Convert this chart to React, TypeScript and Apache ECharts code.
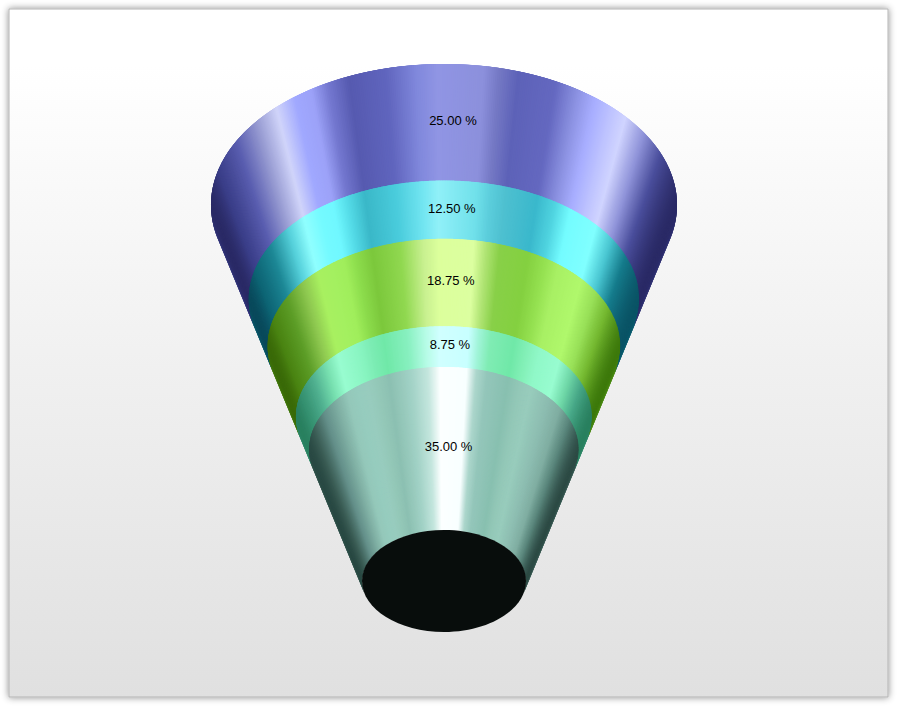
import React, { useEffect, useRef } from "react";
import * as echarts from "echarts";

// Share of each funnel band, top to bottom (percent)
const bandValues = [25, 12.5, 18.75, 8.75, 35];

// Shading ramps: position across the cone (-1 left silhouette, +1 right silhouette)
const shadeStops = [-1, -0.97, -0.89, -0.8, -0.72, -0.64, -0.57, -0.5, -0.41, -0.25, -0.12, -0.03, 0.17, 0.24, 0.32, 0.48, 0.57, 0.65, 0.78, 0.86, 0.93, 1];
const purpleRamp = ["#2a2a66", "#3a3e88", "#5a5eb0", "#9a9ed4", "#d0d4fa", "#a0a8ff", "#9ca2f8", "#7478d0", "#565ab0", "#6065be", "#8088dc", "#9095e4", "#8c90dc", "#7478c4", "#5d62b8", "#6468c0", "#8a90e0", "#a8aeff", "#d0d4ff", "#8e92d8", "#4a4e9c", "#2a2a66"];
const cyanRamp = ["#0a4a5c", "#0d6474", "#1d8896", "#55d0da", "#90ffff", "#74faff", "#70f8ff", "#55dce8", "#3ab8c8", "#4accdc", "#70e4f0", "#90f0f8", "#70e0ea", "#5ccedc", "#4ec0d0", "#3ab8cc", "#50d4e0", "#74fcff", "#80ffff", "#48c4d0", "#157c8c", "#0a5466"];
const greenRamp = ["#3a6a08", "#4a8412", "#5d9e28", "#8ec850", "#a8f060", "#a4f060", "#a0ee5c", "#8cdc4c", "#7cc83c", "#90d850", "#c8f090", "#dcff9c", "#dcffa0", "#b0e474", "#88d048", "#84d040", "#94e050", "#a8f064", "#b0f86c", "#98e058", "#74b830", "#3e7a0c"];
const mintRamp = ["#2a8060", "#359070", "#50b090", "#78e0b0", "#98fcd0", "#90f8c8", "#88f4c0", "#7cecb4", "#70e8a8", "#88f0c0", "#b8fce8", "#d0ffff", "#c8ffff", "#a0f4d8", "#80ecb4", "#70e8a8", "#84f0b8", "#90f8c8", "#98fcd0", "#70d8a8", "#48a888", "#2a8060"];
const silverRamp = ["#2a4a44", "#3a5c54", "#64908a", "#80b0a4", "#94c8ba", "#96ccbe", "#98ccbe", "#94c8b8", "#8cc0b2", "#a2d2c6", "#c4e6de", "#fcffff", "#f8ffff", "#acd6cc", "#94c6ba", "#88c0b0", "#94c8b8", "#98ccbc", "#8cbcb0", "#80aea2", "#5a867c", "#2e4c46"];
const ramps = [purpleRamp, cyanRamp, greenRamp, mintRamp, silverRamp];

const hexToRgb = (h: string) => [1, 3, 5].map((i) => parseInt(h.slice(i, i + 2), 16));

function shade(ramp: string[], u: number): string {
  let i = 0;
  while (i < shadeStops.length - 2 && u > shadeStops[i + 1]) i++;
  const f = Math.min(1, Math.max(0, (u - shadeStops[i]) / (shadeStops[i + 1] - shadeStops[i])));
  const a = hexToRgb(ramp[i]);
  const b = hexToRgb(ramp[i + 1]);
  const c = a.map((v, k) => Math.round(v + (b[k] - v) * f));
  return `rgb(${c[0]},${c[1]},${c[2]})`;
}

// Build [index, cumulative start, cumulative end, value] rows
const rows: number[][] = [];
bandValues.reduce((sum, v, i) => {
  rows.push([i, sum, sum + v, v]);
  return sum + v;
}, 0);

const BOTTOM_RADIUS = 82 / 233; // in x-axis units
const SLICES = 420;
const SWEEP = (14.1 * Math.PI) / 180;

function ring(api: any, pct: number) {
  const t = pct / 100;
  const r = 1 + (BOTTOM_RADIUS - 1) * t;
  const c = api.coord([0, pct]);
  const e = api.coord([r, pct]);
  const rx = e[0] - c[0];
  const ry = 141 + (51 - 141) * t;
  return { cx: c[0], cy: c[1], rx, ry };
}

function renderBand(params: any, api: any) {
  const index = api.value(0);
  const start = api.value(1);
  const end = api.value(2);
  const value = api.value(3);
  const a = ring(api, start);
  const b = ring(api, end);
  const ramp = ramps[index];
  const children: any[] = [];
  const span = Math.PI + 2 * SWEEP;
  const at = (g: any, th: number) => [g.cx + g.rx * Math.cos(th), g.cy - g.ry * Math.sin(th)];
  // Painted left to right; each slice runs on under the next one so no seams show
  for (let j = SLICES - 1; j >= 0; j--) {
    const t0 = -SWEEP + (span * j) / SLICES;
    const t1 = -SWEEP + (span * (j + 1)) / SLICES;
    const t2 = Math.max(-SWEEP, t0 - (span * 3) / SLICES);
    const col = shade(ramp, Math.cos((t0 + t1) / 2));
    children.push({
      type: "polygon",
      shape: { points: [at(a, t2), at(a, t1), at(b, t1), at(b, t2)] },
      style: { fill: col },
      z2: SLICES - j,
    });
  }
  const mid = ring(api, (start + end) / 2);
  const topA = a.cy - a.ry;
  const topB = b.cy - b.ry;
  children.push({
    type: "text",
    z2: 1000,
    style: {
      text: `${value.toFixed(2)} %`,
      x: mid.cx + 0.042 * mid.rx,
      y: (topA + topB) / 2 - 1.6,
      align: "center",
      verticalAlign: "middle",
      fill: "#000",
      font: '13px "Liberation Sans", Arial, sans-serif',
    },
  });
  if (index === bandValues.length - 1) {
    children.push({
      type: "ellipse",
      z2: 900,
      shape: { cx: b.cx, cy: b.cy, rx: b.rx, ry: b.ry },
      style: { fill: "#080d0c" },
    });
  }
  return { type: "group", children };
}

export default function App() {
  const ref = useRef<HTMLDivElement>(null);
  useEffect(() => {
    const chart = echarts.init(ref.current!, undefined, { renderer: "svg" });
    chart.setOption({
      animation: false,
      backgroundColor: "#ffffff",
      graphic: [
        {
          type: "rect",
          z: -1,
          shape: { x: 9, y: 9, width: 879, height: 688 },
          style: {
            fill: new echarts.graphic.LinearGradient(0, 0, 0, 1, [
              { offset: 0, color: "#ffffff" },
              { offset: 0.08, color: "#ffffff" },
              { offset: 1, color: "#e0e0e0" },
            ]),
            stroke: "#b4b4b4",
            lineWidth: 1,
            shadowBlur: 7,
            shadowColor: "rgba(0,0,0,0.45)",
          },
        },
      ],
      grid: { left: 211, width: 466, top: 205, height: 376, containLabel: false },
      xAxis: { type: "value", min: -1, max: 1, show: false },
      yAxis: { type: "value", min: 0, max: 100, inverse: true, show: false },
      series: [
        {
          type: "custom",
          coordinateSystem: "cartesian2d",
          clip: false,
          silent: true,
          data: rows,
          encode: { x: 0, y: 1 },
          renderItem: renderBand,
        },
      ],
    });
    return () => chart.dispose();
  }, []);
  return <div ref={ref} style={{ position: "fixed", left: 0, top: 0, width: 898, height: 707 }} />;
}
